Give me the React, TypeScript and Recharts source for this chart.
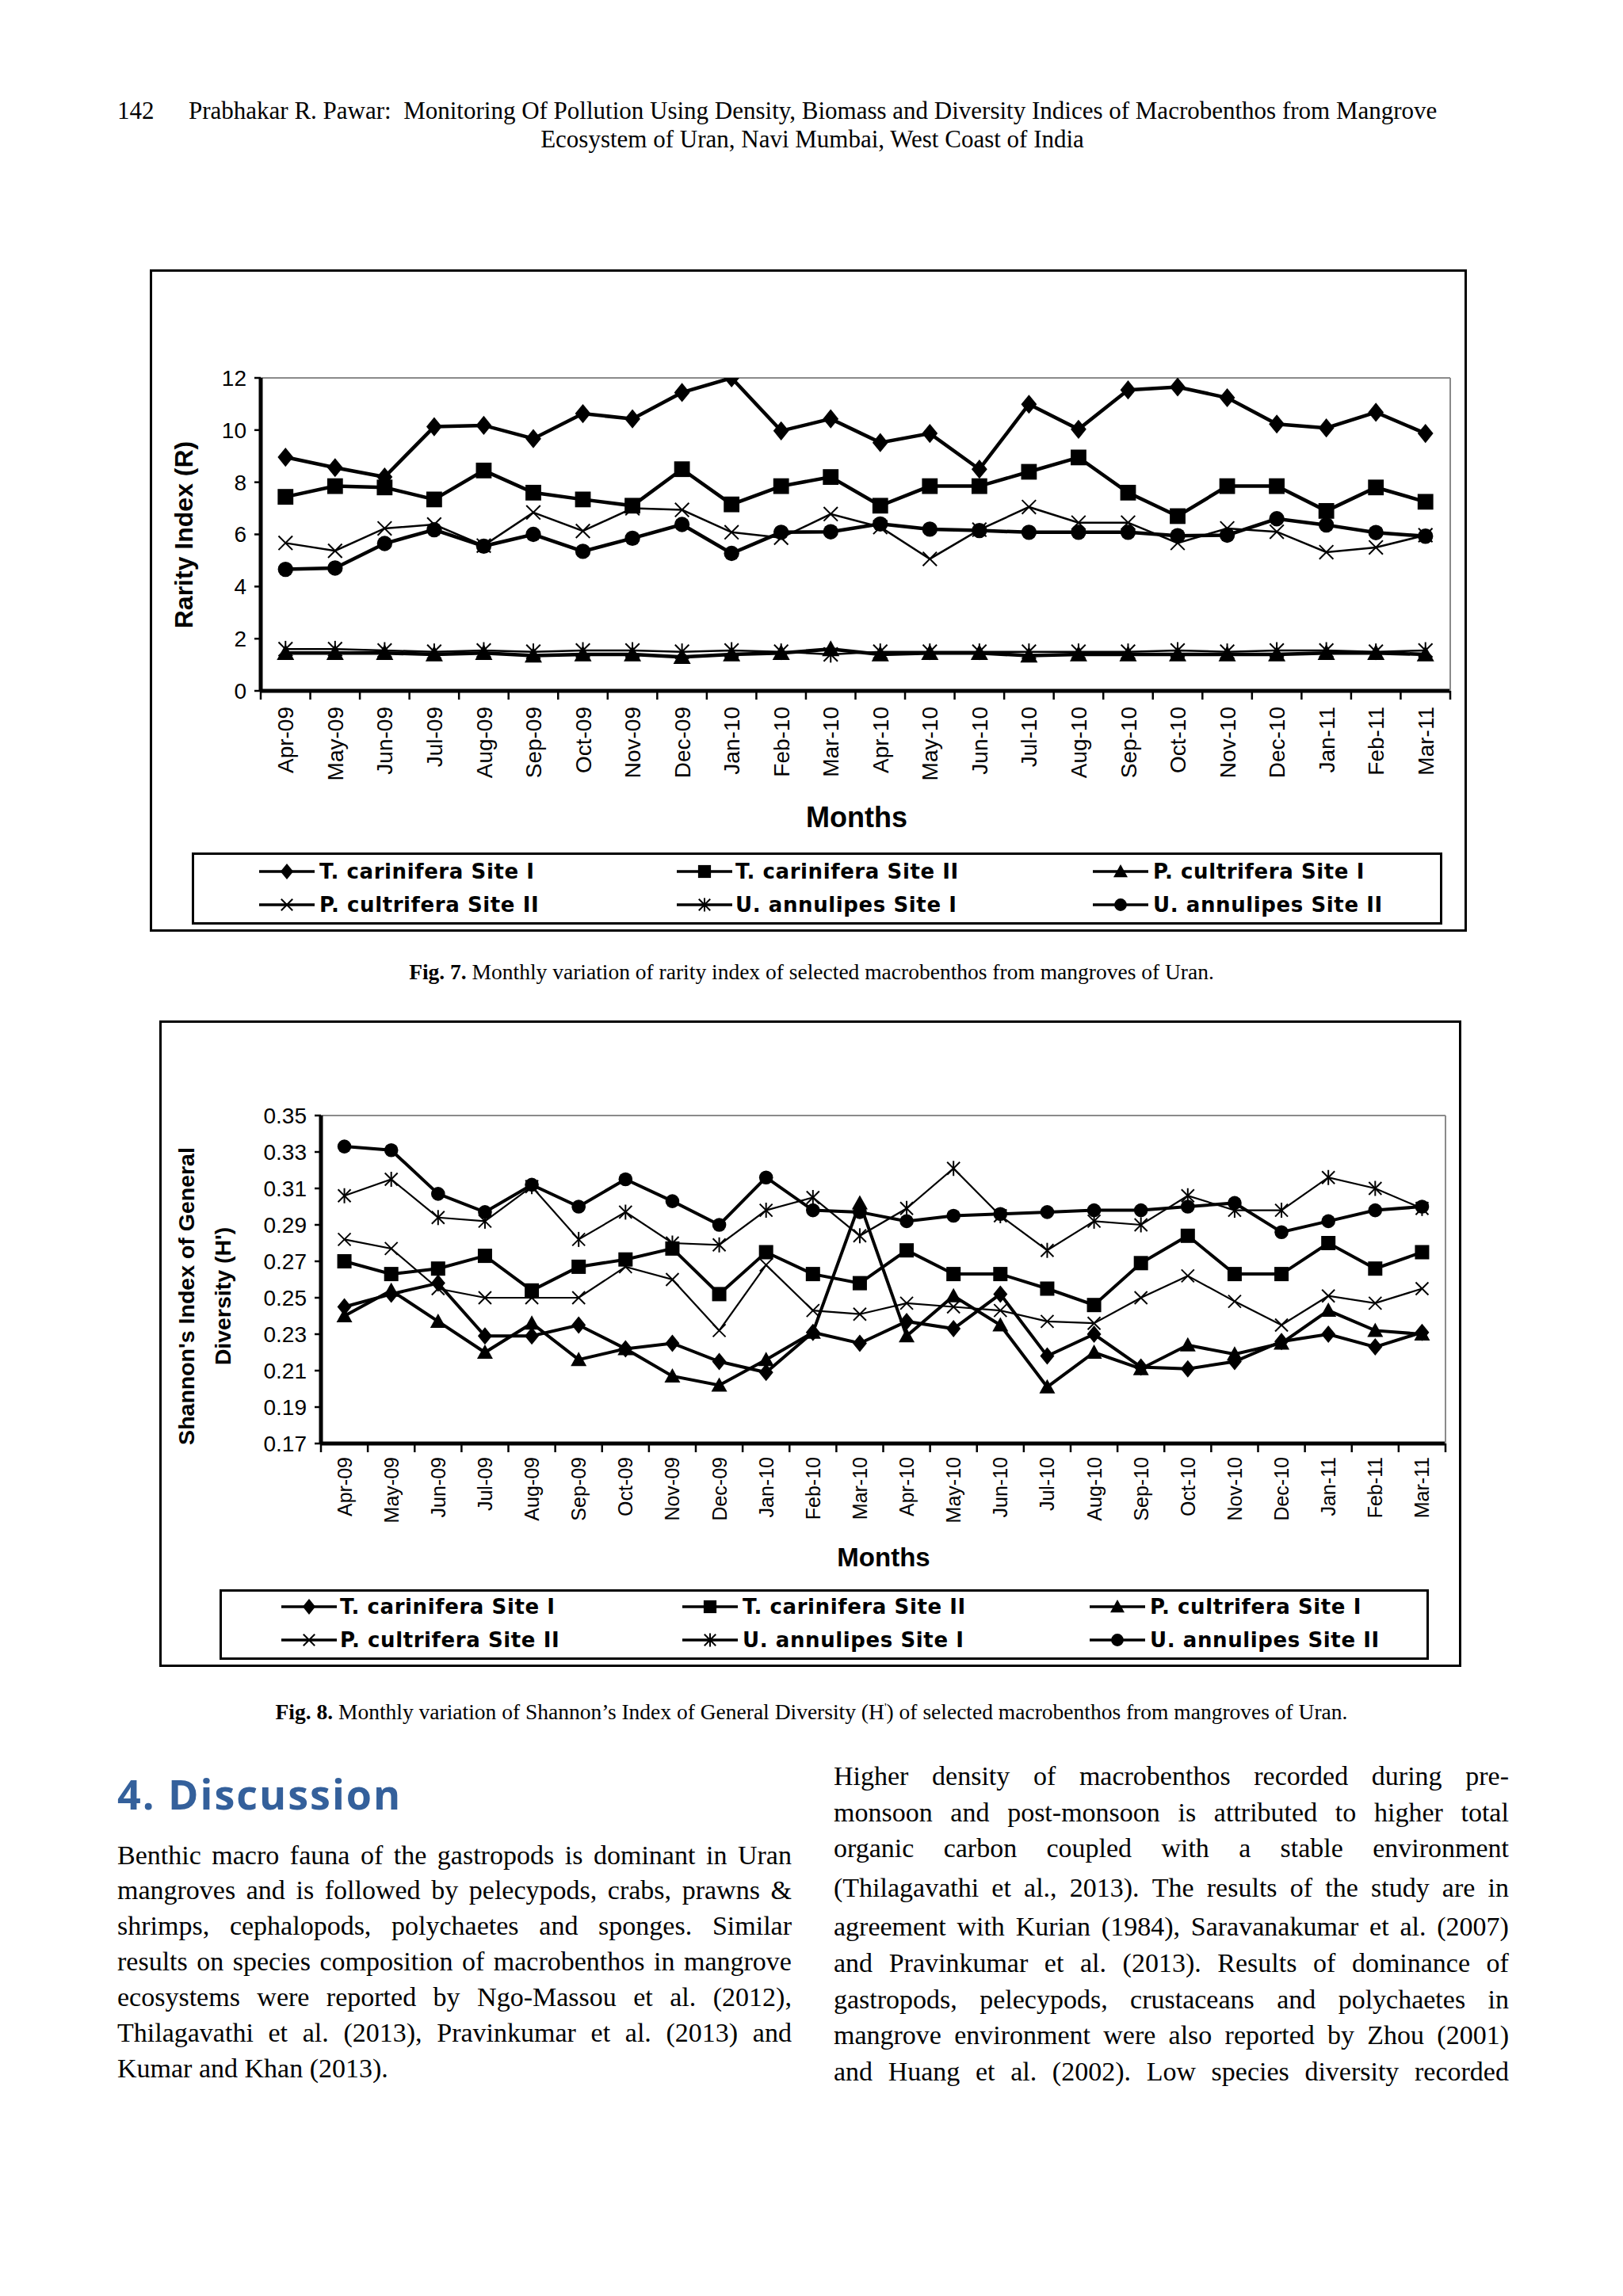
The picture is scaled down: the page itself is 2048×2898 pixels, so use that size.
import React from 'react';
import { LineChart, Line, XAxis, YAxis, ReferenceLine } from 'recharts';

const months = ["Apr-09","May-09","Jun-09","Jul-09","Aug-09","Sep-09","Oct-09","Nov-09","Dec-09","Jan-10","Feb-10","Mar-10","Apr-10","May-10","Jun-10","Jul-10","Aug-10","Sep-10","Oct-10","Nov-10","Dec-10","Jan-11","Feb-11","Mar-11"];

const seriesNames = ["T. carinifera Site I","T. carinifera Site II","P. cultrifera Site I","P. cultrifera Site II","U. annulipes Site I","U. annulipes Site II"];
const markerKinds = ["diamond","square","triangle","x","star","circle"];

// Fig. 7 rarity index (R)
const rarityTCarI = [8.96,8.56,8.2,10.13,10.18,9.67,10.63,10.43,11.44,12.0,9.97,10.43,9.52,9.87,8.5,10.99,10.03,11.54,11.65,11.24,10.23,10.08,10.68,9.87];
const rarityTCarII = [7.44,7.85,7.8,7.34,8.45,7.6,7.34,7.1,8.5,7.15,7.85,8.2,7.1,7.85,7.85,8.4,8.95,7.6,6.7,7.85,7.85,6.9,7.8,7.25];
const rarityPCultI = [1.45,1.45,1.45,1.4,1.45,1.35,1.4,1.4,1.3,1.4,1.45,1.6,1.4,1.45,1.45,1.35,1.4,1.4,1.4,1.4,1.4,1.45,1.45,1.4];
const rarityPCultII = [5.67,5.37,6.23,6.38,5.57,6.84,6.13,7.0,6.94,6.08,5.87,6.78,6.28,5.06,6.18,7.05,6.45,6.45,5.67,6.23,6.1,5.32,5.5,5.97];
const rarityUAnnI = [1.6,1.6,1.55,1.5,1.55,1.5,1.55,1.55,1.5,1.55,1.5,1.4,1.5,1.5,1.5,1.5,1.5,1.5,1.55,1.5,1.55,1.55,1.5,1.55];
const rarityUAnnII = [4.66,4.71,5.65,6.18,5.55,6.0,5.35,5.85,6.38,5.27,6.08,6.1,6.4,6.2,6.15,6.08,6.08,6.08,5.95,5.97,6.6,6.36,6.07,5.93];
const rarityTicks = [0,2,4,6,8,10,12];

// Fig. 8 Shannon's index (H')
const shannonTCarI = [0.245,0.252,0.258,0.229,0.229,0.235,0.222,0.225,0.215,0.209,0.231,0.225,0.237,0.233,0.252,0.218,0.230,0.212,0.211,0.215,0.226,0.230,0.223,0.231];
const shannonTCarII = [0.270,0.263,0.266,0.273,0.254,0.267,0.271,0.277,0.252,0.275,0.263,0.258,0.276,0.263,0.263,0.255,0.246,0.269,0.284,0.263,0.263,0.280,0.266,0.275];
const shannonPCultI = [0.240,0.254,0.237,0.220,0.236,0.216,0.222,0.207,0.202,0.216,0.231,0.302,0.229,0.251,0.235,0.201,0.220,0.211,0.224,0.219,0.225,0.243,0.232,0.230];
const shannonPCultII = [0.282,0.277,0.255,0.250,0.250,0.250,0.267,0.260,0.232,0.268,0.243,0.241,0.247,0.245,0.243,0.237,0.236,0.250,0.262,0.248,0.235,0.251,0.247,0.255];
const shannonUAnnI = [0.306,0.315,0.294,0.292,0.311,0.282,0.297,0.280,0.279,0.298,0.305,0.284,0.299,0.321,0.295,0.276,0.292,0.290,0.306,0.298,0.298,0.316,0.310,0.299];
const shannonUAnnII = [0.333,0.331,0.307,0.297,0.312,0.300,0.315,0.303,0.290,0.316,0.298,0.297,0.292,0.295,0.296,0.297,0.298,0.298,0.300,0.302,0.286,0.292,0.298,0.300];
const shannonTicks = [0.17,0.19,0.21,0.23,0.25,0.27,0.29,0.31,0.33,0.35];

const raritySeries = [rarityTCarI, rarityTCarII, rarityPCultI, rarityPCultII, rarityUAnnI, rarityUAnnII];
const shannonSeries = [shannonTCarI, shannonTCarII, shannonPCultI, shannonPCultII, shannonUAnnI, shannonUAnnII];

const buildRows = (series: number[][]) =>
  months.map((m, i) => {
    const row: any = { month: m };
    series.forEach((s, k) => { row['s' + k] = s[i]; });
    return row;
  });

const rarityData = buildRows(raritySeries);
const shannonData = buildRows(shannonSeries);

const SANS = '"Liberation Sans", Arial, sans-serif';
const SERIF = '"Liberation Serif", "Times New Roman", serif';
const LEG = '"DejaVu Sans", Verdana, sans-serif';

function Marker({ kind, cx, cy, s }: { kind: string; cx: number; cy: number; s: number }) {
  if (cx == null || cy == null || isNaN(cx) || isNaN(cy)) return <g />;
  switch (kind) {
    case 'diamond':
      return <polygon points={`${cx},${cy - s * 1.1} ${cx + s * 0.9},${cy} ${cx},${cy + s * 1.1} ${cx - s * 0.9},${cy}`} fill="#000" />;
    case 'square':
      return <rect x={cx - s * 0.9} y={cy - s * 0.9} width={s * 1.8} height={s * 1.8} fill="#000" />;
    case 'triangle':
      return <polygon points={`${cx},${cy - s * 1.0} ${cx + s * 1.0},${cy + s * 0.8} ${cx - s * 1.0},${cy + s * 0.8}`} fill="#000" />;
    case 'circle':
      return <circle cx={cx} cy={cy} r={s * 0.88} fill="#000" />;
    case 'x':
      return (
        <g stroke="#000" strokeWidth={2}>
          <line x1={cx - s * 0.8} y1={cy - s * 0.8} x2={cx + s * 0.8} y2={cy + s * 0.8} />
          <line x1={cx - s * 0.8} y1={cy + s * 0.8} x2={cx + s * 0.8} y2={cy - s * 0.8} />
        </g>
      );
    case 'star':
    default:
      return (
        <g stroke="#000" strokeWidth={2}>
          <line x1={cx - s * 0.8} y1={cy - s * 0.8} x2={cx + s * 0.8} y2={cy + s * 0.8} />
          <line x1={cx - s * 0.8} y1={cy + s * 0.8} x2={cx + s * 0.8} y2={cy - s * 0.8} />
          <line x1={cx} y1={cy - s * 0.95} x2={cx} y2={cy + s * 0.95} />
        </g>
      );
  }
}

type ChartCfg = {
  boxLeft: number; boxTop: number; boxW: number; boxH: number;
  plotLeft: number; plotRight: number; plotTop: number; plotBottom: number;
  domain: [number, number]; ticks: number[]; fmt: (v: number) => string;
  yFs: number; xFs: number; xGap: number;
  yLabelLines: string[]; yLabelXs: number[]; yLabelCy: number; yLabelFs: number;
  monthsCx: number; monthsCy: number; monthsFs: number;
  data: any[]; widths: number[]; markerSize: number;
};

function SpeciesChart({ cfg }: { cfg: ChartCfg }) {
  const border = 3;
  const chartLeft = cfg.boxLeft + border;
  const chartTop = cfg.boxTop + border;
  const W = cfg.boxW - border * 2;
  const H = cfg.boxH - border * 2;
  const yAxisW = 100;
  const xAxisH = 100;
  const margin = {
    left: cfg.plotLeft - chartLeft - yAxisW,
    right: chartLeft + W - cfg.plotRight - 1,
    top: cfg.plotTop - chartTop,
    bottom: chartTop + H - cfg.plotBottom - xAxisH,
  };
  const band = (cfg.plotRight - cfg.plotLeft) / months.length;
  const n = months.length;

  const XTick = (props: any) => {
    const { x, y, payload, index } = props;
    const bx = x - band / 2;
    return (
      <g>
        <line x1={bx} y1={y} x2={bx} y2={y + 11} stroke="#000" strokeWidth={2.5} />
        {index === n - 1 && <line x1={x + band / 2} y1={y} x2={x + band / 2} y2={y + 11} stroke="#000" strokeWidth={2.5} />}
        <text
          transform={`translate(${x + cfg.xFs * 0.36},${y + cfg.xGap}) rotate(-90)`}
          textAnchor="end"
          fontFamily={SANS}
          fontSize={cfg.xFs}
          fill="#000"
        >
          {payload.value}
        </text>
      </g>
    );
  };

  const yLabel = (p: any) => (
    <g>
      {cfg.yLabelLines.map((t, i) => (
        <text
          key={i}
          transform={`translate(${cfg.yLabelXs[i] - chartLeft + cfg.yLabelFs * 0.36},${cfg.yLabelCy - chartTop}) rotate(-90)`}
          textAnchor="middle"
          fontFamily={SANS}
          fontWeight="bold"
          fontSize={cfg.yLabelFs}
          fill="#000"
        >
          {t}
        </text>
      ))}
    </g>
  );

  const xLabel = (p: any) => (
    <text
      x={cfg.monthsCx - chartLeft}
      y={cfg.monthsCy - chartTop + cfg.monthsFs * 0.36}
      textAnchor="middle"
      fontFamily={SANS}
      fontWeight="bold"
      fontSize={cfg.monthsFs}
      fill="#000"
    >
      Months
    </text>
  );

  return (
    <div
      style={{
        position: 'absolute', left: cfg.boxLeft, top: cfg.boxTop, width: cfg.boxW, height: cfg.boxH,
        border: `${border}px solid #000`, boxSizing: 'border-box', background: '#fff',
      }}
    >
      <LineChart width={W} height={H} data={cfg.data} margin={margin}>
        <XAxis
          dataKey="month"
          scale="point"
          padding={{ left: band / 2, right: band / 2 }}
          interval={0}
          height={xAxisH}
          tickSize={0}
          tickMargin={0}
          tickLine={false}
          axisLine={{ stroke: '#000', strokeWidth: 5 }}
          tick={XTick}
          label={xLabel}
        />
        <YAxis
          domain={cfg.domain}
          ticks={cfg.ticks}
          interval={0}
          width={yAxisW}
          tickFormatter={cfg.fmt}
          tickSize={8}
          tickMargin={10}
          tick={{ fontSize: cfg.yFs, fill: '#000', fontFamily: SANS }}
          tickLine={{ stroke: '#000', strokeWidth: 2.5 }}
          axisLine={{ stroke: '#000', strokeWidth: 5 }}
          allowDataOverflow
          label={yLabel}
        />
        <YAxis
          yAxisId="r"
          orientation="right"
          domain={[0, 1]}
          width={1}
          tick={false}
          tickLine={false}
          axisLine={{ stroke: '#8a8a8a', strokeWidth: 2 }}
        />
        <ReferenceLine y={cfg.domain[1]} stroke="#8a8a8a" strokeWidth={2} />
        {markerKinds.map((k, idx) => (
          <Line
            key={k}
            dataKey={'s' + idx}
            name={seriesNames[idx]}
            type="linear"
            stroke="#000"
            strokeWidth={cfg.widths[idx]}
            isAnimationActive={false}
            activeDot={false}
            dot={(p: any) => <Marker key={`${k}-${p.index}`} kind={k} cx={p.cx} cy={p.cy} s={cfg.markerSize} />}
          />
        ))}
      </LineChart>
    </div>
  );
}

type LegendCfg = { left: number; top: number; width: number; height: number; rows: number[]; lineXs: number[]; textXs: number[]; fs: number; size: number };

function LegendBox({ cfg }: { cfg: LegendCfg }) {
  return (
    <div style={{ position: 'absolute', left: cfg.left, top: cfg.top, width: cfg.width, height: cfg.height, border: '3px solid #000', boxSizing: 'border-box', background: '#fff' }}>
      {seriesNames.map((name, i) => {
        const row = Math.floor(i / 3);
        const col = i % 3;
        const cy = cfg.rows[row] - cfg.top;
        const lx = cfg.lineXs[col] - cfg.left;
        const tx = cfg.textXs[col] - cfg.left;
        return (
          <React.Fragment key={name}>
            <svg style={{ position: 'absolute', left: lx - 3, top: cy - 15 - 3 }} width={72} height={30}>
              <line x1={0} y1={15} x2={70} y2={15} stroke="#000" strokeWidth={3.5} />
              <Marker kind={markerKinds[i]} cx={35} cy={15} s={cfg.size} />
            </svg>
            <div style={{ position: 'absolute', left: tx - 3, top: cy - 18 - 3, height: 36, lineHeight: '36px', fontFamily: LEG, fontWeight: 'bold', fontSize: cfg.fs, letterSpacing: 0.6, whiteSpace: 'nowrap', color: '#000' }}>
              {name}
            </div>
          </React.Fragment>
        );
      })}
    </div>
  );
}

function JLine({ words, left, cy, width, fs, justify = true, lh = 44 }: { words: React.ReactNode[]; left: number; cy: number; width: number; fs: number; justify?: boolean; lh?: number }) {
  return (
    <div
      style={{
        position: 'absolute', left, top: cy - lh / 2, width, height: lh, lineHeight: `${lh}px`,
        fontFamily: SERIF, fontSize: fs, color: '#000', whiteSpace: 'pre',
        display: 'flex', justifyContent: justify ? 'space-between' : 'flex-start',
        gap: justify ? 0 : fs * 0.25,
      }}
    >
      {words.map((w, i) => <span key={i}>{w}</span>)}
    </div>
  );
}

const leftLines = [
  "Benthic macro fauna of the gastropods is dominant in Uran",
  "mangroves and is followed by pelecypods, crabs, prawns &",
  "shrimps, cephalopods, polychaetes and sponges. Similar",
  "results on species composition of macrobenthos in mangrove",
  "ecosystems were reported by Ngo-Massou et al. (2012),",
  "Thilagavathi et al. (2013), Pravinkumar et al. (2013) and",
  "Kumar and Khan (2013).",
];
const leftCys = [2342, 2386, 2431, 2476, 2521, 2566, 2611];

const rightLines = [
  "Higher density of macrobenthos recorded during pre-",
  "monsoon and post-monsoon is attributed to higher total",
  "organic carbon coupled with a stable environment",
  "(Thilagavathi et al., 2013). The results of the study are in",
  "agreement with Kurian (1984), Saravanakumar et al. (2007)",
  "and Pravinkumar et al. (2013). Results of dominance of",
  "gastropods, pelecypods, crustaceans and polychaetes in",
  "mangrove environment were also reported by Zhou (2001)",
  "and Huang et al. (2002). Low species diversity recorded",
];
const rightCys = [2242, 2288, 2333, 2383, 2432, 2478, 2524, 2569, 2615];

const chart1: ChartCfg = {
  boxLeft: 189, boxTop: 340, boxW: 1662, boxH: 836,
  plotLeft: 329, plotRight: 1830, plotTop: 477, plotBottom: 872,
  domain: [0, 12], ticks: rarityTicks, fmt: (v: number) => String(v),
  yFs: 28, xFs: 28, xGap: 20,
  yLabelLines: ["Rarity Index (R)"], yLabelXs: [231], yLabelCy: 675, yLabelFs: 32,
  monthsCx: 1081, monthsCy: 1031, monthsFs: 36,
  data: rarityData, widths: [4.5, 4.5, 4.5, 2.5, 2.5, 4.5], markerSize: 11,
};

const chart2: ChartCfg = {
  boxLeft: 201, boxTop: 1288, boxW: 1643, boxH: 816,
  plotLeft: 405, plotRight: 1824, plotTop: 1408, plotBottom: 1822,
  domain: [0.17, 0.35], ticks: shannonTicks, fmt: (v: number) => v.toFixed(2),
  yFs: 28, xFs: 25, xGap: 17,
  yLabelLines: ["Shannon's Index of General", "Diversity (H')"], yLabelXs: [235, 281], yLabelCy: 1636, yLabelFs: 28.5,
  monthsCx: 1115, monthsCy: 1965, monthsFs: 33,
  data: shannonData, widths: [4, 4, 4, 2.2, 2.2, 4], markerSize: 10,
};

const legend1: LegendCfg = { left: 242, top: 1076, width: 1578, height: 91, rows: [1100, 1142], lineXs: [327, 854, 1379], textXs: [403, 928, 1455], fs: 26, size: 9 };
const legend2: LegendCfg = { left: 277, top: 2006, width: 1526, height: 89, rows: [2028, 2070], lineXs: [355, 861, 1375], textXs: [429, 937, 1451], fs: 26, size: 9 };

const splitWords = (s: string) => s.split(' ');

export default function App() {
  return (
    <div style={{ position: 'absolute', left: 0, top: 0, width: 2048, height: 2898, background: '#fff', overflow: 'hidden' }}>
      {/* header */}
      <div style={{ position: 'absolute', left: 148, top: 140 - 18, height: 36, lineHeight: '36px', fontFamily: SERIF, fontSize: 31, whiteSpace: 'nowrap', color: '#000' }}>142</div>
      <div style={{ position: 'absolute', left: 238, top: 140 - 18, height: 36, lineHeight: '36px', fontFamily: SERIF, fontSize: 31, whiteSpace: 'nowrap', color: '#000' }}>
        Prabhakar R. Pawar:&nbsp; Monitoring Of Pollution Using Density, Biomass and Diversity Indices of Macrobenthos from Mangrove
      </div>
      <div style={{ position: 'absolute', left: 238, width: 1574, top: 176 - 18, height: 36, lineHeight: '36px', textAlign: 'center', fontFamily: SERIF, fontSize: 31, whiteSpace: 'nowrap', color: '#000' }}>
        Ecosystem of Uran, Navi Mumbai, West Coast of India
      </div>

      <SpeciesChart cfg={chart1} />
      <LegendBox cfg={legend1} />
      <div style={{ position: 'absolute', left: 0, width: 2048, top: 1227 - 16, height: 32, lineHeight: '32px', textAlign: 'center', fontFamily: SERIF, fontSize: 27.5, color: '#000', whiteSpace: 'nowrap' }}>
        <b>Fig. 7.</b> Monthly variation of rarity index of selected macrobenthos from mangroves of Uran.
      </div>

      <SpeciesChart cfg={chart2} />
      <LegendBox cfg={legend2} />
      <div style={{ position: 'absolute', left: 0, width: 2048, top: 2155 - 16, height: 32, lineHeight: '32px', textAlign: 'center', fontFamily: SERIF, fontSize: 27.5, color: '#000', whiteSpace: 'nowrap' }}>
        <b>Fig. 8.</b> Monthly variation of Shannon’s Index of General Diversity (H<sup style={{ fontSize: 15 }}>'</sup>) of selected macrobenthos from mangroves of Uran.
      </div>

      <div style={{ position: 'absolute', left: 148, top: 2264 - 30, height: 60, lineHeight: '60px', fontFamily: '"Open Sans", "DejaVu Sans", sans-serif', fontWeight: 'bold', fontSize: 52, color: '#34609b', whiteSpace: 'nowrap', letterSpacing: 2 }}>
        4. Discussion
      </div>

      {leftLines.map((l, i) => (
        <JLine key={'l' + i} words={splitWords(l)} left={148} cy={leftCys[i]} width={851} fs={34} justify={i < leftLines.length - 1} />
      ))}
      {rightLines.map((l, i) => (
        <JLine key={'r' + i} words={splitWords(l)} left={1052} cy={rightCys[i]} width={852} fs={34} />
      ))}
    </div>
  );
}
